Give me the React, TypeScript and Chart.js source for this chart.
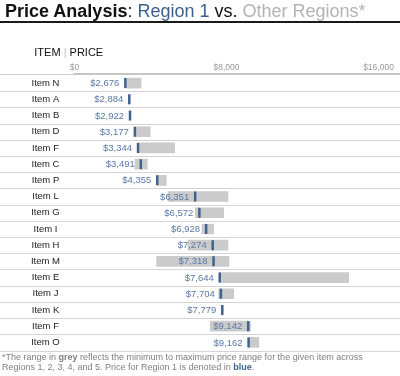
import React, { useEffect, useRef } from "react";
import { Chart, registerables } from "chart.js";

Chart.register(...registerables);

const items = ["Item N", "Item A", "Item B", "Item D", "Item F", "Item C", "Item P", "Item L", "Item G", "Item I", "Item H", "Item M", "Item E", "Item J", "Item K", "Item F", "Item O"];
const region1 = [2676, 2884, 2922, 3177, 3344, 3491, 4355, 6351, 6572, 6928, 7274, 7318, 7644, 7704, 7779, 9142, 9162];
const minPrice = [2676, 2884, 2922, 3177, 3344, 3180, 4355, 4920, 6360, 6710, 5970, 4320, 7644, 7590, 7779, 7150, 9162];
const maxPrice = [3500, 2884, 2922, 3990, 5270, 3830, 4830, 8080, 7850, 7330, 8080, 8130, 14430, 8380, 7779, 9260, 9700];
const xTicks = [0, 8000, 16000];

const FONT = "'Liberation Sans', Arial, Helvetica, sans-serif";
const BLUE = "#41628f";
const LABEL_BLUE = "#5a79a6";
const GREY = "#cbcbcb";

const rowPlugin = {
  id: "rows",
  beforeDatasetsDraw(chart: any) {
    const { ctx, chartArea } = chart;
    const n = items.length;
    ctx.save();
    ctx.strokeStyle = "#d4d4d4";
    ctx.lineWidth = 1;
    const step = (chartArea.bottom - chartArea.top) / n;
    for (let i = 1; i <= n; i++) {
      const yy = Math.round(chartArea.top + i * step) + 0.5;
      ctx.beginPath();
      ctx.moveTo(0, yy);
      ctx.lineTo(chart.width, yy);
      ctx.stroke();
    }
    ctx.strokeStyle = "#d0d0d0";
    ctx.beginPath();
    ctx.moveTo(0, chartArea.top - 0.5);
    ctx.lineTo(chart.width, chartArea.top - 0.5);
    ctx.stroke();
    ctx.fillStyle = "#c6c6c6";
    ctx.fillRect(chartArea.left - 1, chartArea.top - 2, chart.width - chartArea.left + 1, 2);
    ctx.restore();
  },
  afterDatasetsDraw(chart: any) {
    const { ctx, scales } = chart;
    ctx.save();
    ctx.font = `9.5px ${FONT}`;
    ctx.fillStyle = LABEL_BLUE;
    ctx.textAlign = "right";
    ctx.textBaseline = "middle";
    region1.forEach((v, i) => {
      const x = scales.x.getPixelForValue(v) - 6;
      const y = scales.y.getPixelForValue(i);
      ctx.fillText("$" + v.toLocaleString("en-US"), x, y + 0.5);
    });
    ctx.restore();
  },
};

function PriceChart() {
  const ref = useRef<HTMLCanvasElement | null>(null);
  useEffect(() => {
    if (!ref.current) return;
    const chart = new Chart(ref.current, {
      type: "bar",
      data: {
        labels: items,
        datasets: [
          {
            type: "line",
            label: "Region 1",
            data: region1,
            showLine: false,
            pointStyle: "line",
            rotation: 90,
            pointRadius: 5,
            pointHoverRadius: 5,
            borderColor: BLUE,
            backgroundColor: BLUE,
            borderWidth: 2.5,
            order: 0,
          } as any,
          {
            type: "bar",
            label: "Range",
            data: items.map((_, i) => [minPrice[i], maxPrice[i]]),
            backgroundColor: GREY,
            borderWidth: 0,
            borderSkipped: false,
            barThickness: 10,
            grouped: false,
            order: 1,
          } as any,
        ],
      },
      options: {
        indexAxis: "y",
        animation: false,
        responsive: false,
        maintainAspectRatio: false,
        events: [],
        layout: { padding: { left: 0, top: 0, right: 21.5, bottom: 25.5 } },
        plugins: { legend: { display: false }, tooltip: { enabled: false }, title: { display: false } },
        scales: {
          x: {
            type: "linear",
            position: "top",
            min: 0,
            max: 16000,
            afterBuildTicks: (s: any) => {
              s.ticks = xTicks.map((v) => ({ value: v }));
            },
            afterFit: (s: any) => {
              s.height = 75;
            },
            grid: { display: false, drawTicks: false },
            border: { display: false },
            ticks: {
              padding: 2.5,
              color: "#9a9a9a",
              font: { family: FONT, size: 8.5 },
              callback: (v: any) => "$" + Number(v).toLocaleString("en-US"),
              maxRotation: 0,
            },
          },
          y: {
            type: "category",
            offset: true,
            afterFit: (s: any) => {
              s.width = 74.5;
            },
            grid: { display: false, drawTicks: false },
            border: { display: false },
            ticks: {
              crossAlign: "center",
              padding: 14.5,
              color: "#1a1a1a",
              font: { family: FONT, size: 9.5 },
              autoSkip: false,
            },
          },
        },
      },
      plugins: [rowPlugin],
    } as any);
    return () => chart.destroy();
  }, []);
  return <canvas ref={ref} width={400} height={376} style={{ position: "absolute", left: 0, top: 0, width: 400, height: 376 }} />;
}

export default function App() {
  return (
    <div style={{ position: "absolute", left: 0, top: 0, width: 400, height: 376, background: "#fff", overflow: "hidden", fontFamily: FONT }}>
      <PriceChart />
      <div style={{ position: "absolute", left: 5, top: 0.5, fontSize: 18, lineHeight: "20px", whiteSpace: "nowrap", color: "#111" }}>
        <b>Price Analysis</b>: <span style={{ color: "#3f6190" }}>Region 1</span> vs.{" "}
        <span style={{ color: "#b3b3b3" }}>Other Regions*</span>
      </div>
      <div style={{ position: "absolute", left: 0, top: 20.7, width: 400, height: 2, background: "#1a1a1a" }} />
      <div style={{ position: "absolute", left: 34.3, top: 45.9, fontSize: 11, lineHeight: "13px", whiteSpace: "nowrap", color: "#111" }}>
        ITEM <span style={{ color: "#bdbdbd" }}>|</span> PRICE
      </div>
      <div style={{ position: "absolute", left: 2, top: 351.5, fontSize: 9, lineHeight: "10.6px", whiteSpace: "nowrap", color: "#7f7f7f" }}>
        *The range in <b>grey</b> reflects the minimum to maximum price range for the given item across
        <br />
        Regions 1, 2, 3, 4, and 5. Price for Region 1 is denoted in <b style={{ color: "#3f6190" }}>blue</b>.
      </div>
    </div>
  );
}
